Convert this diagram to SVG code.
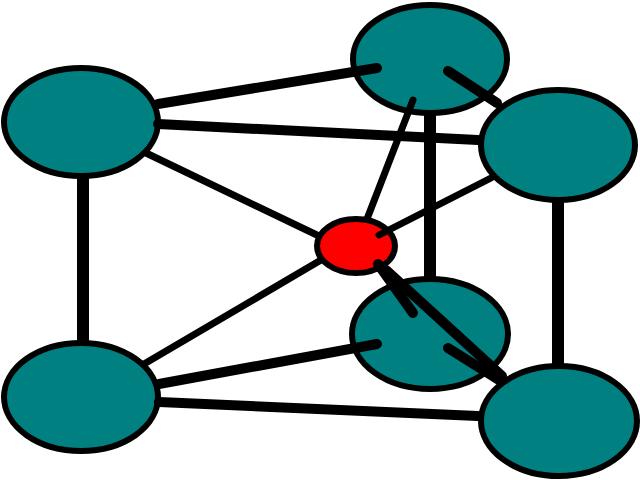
<svg xmlns="http://www.w3.org/2000/svg" width="640" height="480" viewBox="0 0 640 480">
<style>
.node{fill:#008080;stroke:#000;stroke-width:6}
.center{fill:#FF0000;stroke:#000;stroke-width:6}
.c{stroke:#000;fill:none;stroke-linecap:round}
.thick{stroke-width:12;stroke-linecap:butt}
.mid{stroke-width:10}
.thin{stroke-width:7}
</style>
<rect width="640" height="480" fill="#fff"/>
<g id="nodes">
<g id="node-top-left"><ellipse class="node" cx="81" cy="122" rx="77" ry="54"/></g>
<g id="node-top"><ellipse class="node" cx="430" cy="59" rx="77" ry="54"/></g>
<g id="node-right-upper"><ellipse class="node" cx="558" cy="145" rx="77" ry="55"/></g>
<g id="node-bottom-left"><ellipse class="node" cx="81" cy="397" rx="77" ry="54"/></g>
<g id="node-middle-bottom"><ellipse class="node" cx="430" cy="334" rx="78" ry="55"/></g>
<g id="node-bottom-right"><ellipse class="node" cx="559" cy="421" rx="78" ry="55"/></g>
<g id="node-center"><ellipse class="center" cx="356" cy="246" rx="39" ry="27"/></g>
</g>
<g id="connectors">
<line class="c thick" x1="430" y1="113" x2="430" y2="279"/>
<line class="c thick" x1="83" y1="176" x2="83" y2="343"/>
<line class="c thick" x1="558" y1="200" x2="558" y2="366"/>
<line class="c mid" x1="158" y1="104" x2="377" y2="68"/>
<line class="c mid" x1="158" y1="124" x2="478" y2="140"/>
<line class="c thin" x1="146" y1="153" x2="319" y2="236"/>
<line class="c thin" x1="144" y1="364" x2="321" y2="260"/>
<line class="c mid" x1="159" y1="384" x2="377" y2="344"/>
<line class="c mid" x1="159" y1="402" x2="478" y2="416"/>
<line class="c thin" x1="413" y1="100" x2="367" y2="219"/>
<line class="c mid" x1="448" y1="71" x2="497" y2="103"/>
<line class="c thin" x1="491" y1="178" x2="379" y2="235"/>
<line class="c mid" x1="378" y1="264" x2="413" y2="313"/>
<line class="c mid" x1="386" y1="270" x2="502" y2="376"/>
<line class="c mid" x1="448" y1="348" x2="499" y2="380"/>
</g>
</svg>
